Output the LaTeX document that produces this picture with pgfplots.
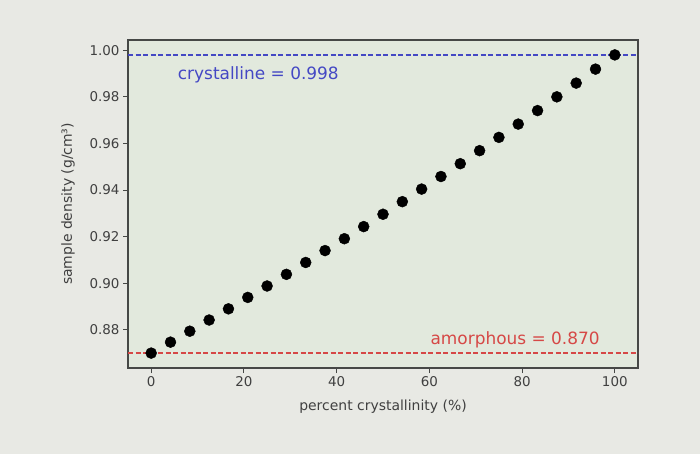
\documentclass[border=0pt]{standalone}
\usepackage{fontspec}
\setmainfont{DejaVu Sans}
\usepackage{pgfplots}
\pgfplotsset{compat=1.18}

\definecolor{bg}{RGB}{232,233,228}
\definecolor{panel}{RGB}{226,233,221}
\definecolor{frame}{RGB}{70,72,70}
\definecolor{cblue}{RGB}{68,72,196}
\definecolor{cred}{RGB}{214,72,70}

\begin{document}
\begin{tikzpicture}
% photo background
\fill[bg] (0,0) rectangle (700bp,454bp);
\begin{axis}[
    at={(128bp,86bp)}, anchor=south west,
    scale only axis,
    width=510bp, height=328bp,
    xmin=-5, xmax=105,
    ymin=0.8636, ymax=1.0044,
    xtick={0,20,40,60,80,100},
    ytick={0.88,0.90,0.92,0.94,0.96,0.98,1.00},
    yticklabel style={/pgf/number format/.cd, fixed, fixed zerofill, precision=2},
    /pgf/number format/assume math mode=true,
    xtick pos=left, ytick pos=left,
    tick align=outside,
    major tick length=5bp,
    tick style={frame, line width=1pt},
    axis line style={frame, line width=1.2pt},
    axis background/.style={fill=panel},
    tick label style={font=\fontsize{13.5}{15}\selectfont, text=black!75},
    label style={font=\fontsize{14}{16}\selectfont, text=black!75},
    xlabel={percent crystallinity (\%)},
    ylabel={sample density (g/cm³)},
    xlabel shift=6bp,
    ylabel shift=8bp,
    clip=false,
]

% pure-phase reference lines
\addplot[cblue, line width=1.2pt, dash pattern=on 5bp off 2.5bp] coordinates {(-5,0.998) (105,0.998)};
\addplot[cred, line width=1.2pt, dash pattern=on 5bp off 2.5bp] coordinates {(-5,0.870) (105,0.870)};

% measured densities
\addplot[only marks, mark=*, mark size=5.5bp, black] coordinates {
    (0.000,0.8700) (4.167,0.8747) (8.333,0.8794) (12.500,0.8842) (16.667,0.8890)
    (20.833,0.8939) (25.000,0.8988) (29.167,0.9038) (33.333,0.9089) (37.500,0.9140)
    (41.667,0.9191) (45.833,0.9243) (50.000,0.9296) (54.167,0.9350) (58.333,0.9404)
    (62.500,0.9458) (66.667,0.9513) (70.833,0.9569) (75.000,0.9626) (79.167,0.9683)
    (83.333,0.9741) (87.500,0.9800) (91.667,0.9859) (95.833,0.9919) (100.000,0.9980)
};

\node[cblue, anchor=west, font=\fontsize{17}{19}\selectfont] at (axis cs:5,0.9893) {crystalline = 0.998};
\node[cred, anchor=west, font=\fontsize{17}{19}\selectfont] at (axis cs:59.5,0.8757) {amorphous = 0.870};

\end{axis}
\end{tikzpicture}
\end{document}
